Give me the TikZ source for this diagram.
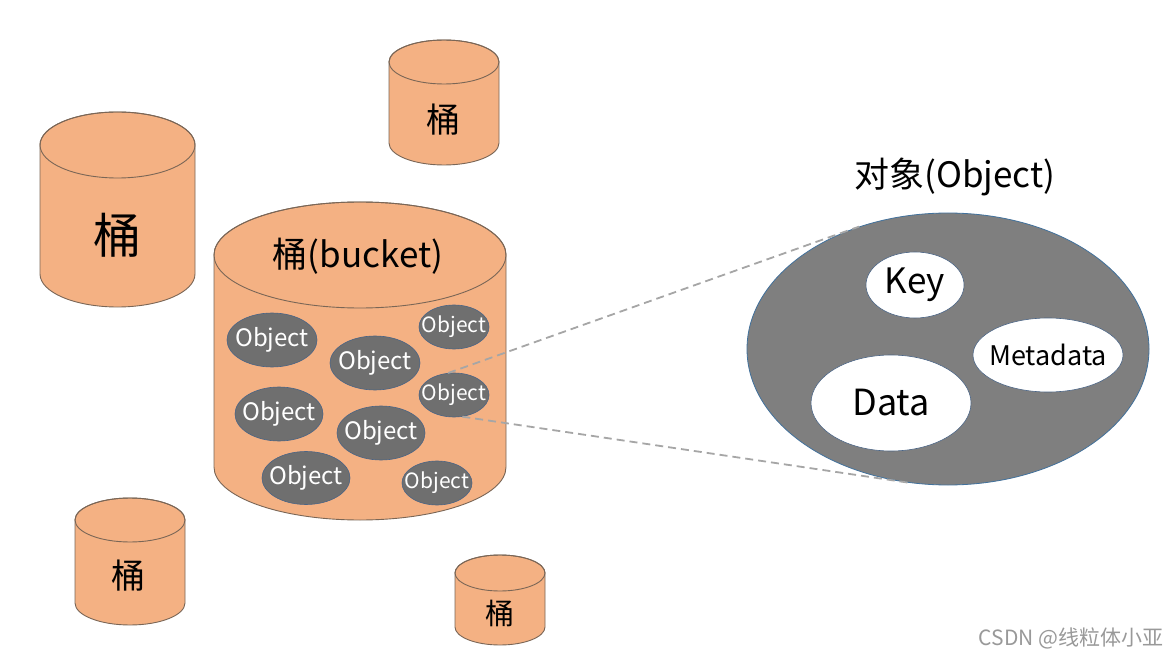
\documentclass[tikz,border=0pt]{standalone}
\usepackage{fontspec}
\setmainfont{Noto Sans CJK SC}
\usetikzlibrary{shapes.geometric}
\definecolor{orng}{HTML}{F4B183}
\definecolor{cylline}{HTML}{7A6656}
\definecolor{objfill}{HTML}{6F6F6F}
\definecolor{objline}{HTML}{4A6485}
\definecolor{bigfill}{HTML}{7F7F7F}
\definecolor{bigline}{HTML}{41719C}
\definecolor{dashc}{HTML}{A6A6A6}
\newcommand\drawcyl[5]{%
  \filldraw[cylbody] ({#1-#2},#3) -- ({#1-#2},#4)
    arc[start angle=180,end angle=0,x radius=#2,y radius=#5] -- ({#1+#2},#3)
    arc[start angle=0,end angle=-180,x radius=#2,y radius=#5] -- cycle;
  \draw[cylbody,fill=none] (#1,#3) ellipse[x radius=#2,y radius=#5];}
\tikzset{
  cylbody/.style={fill=orng,draw=cylline,line width=0.9pt},
  obj/.style={ellipse,fill=objfill,draw=objline,line width=0.6pt,inner sep=0pt,
    label={[text=white,font=\fontsize{24}{24}\selectfont]center:Object}},
  sobj/.style={ellipse,fill=objfill,draw=objline,line width=0.6pt,inner sep=0pt,
    label={[text=white,font=\fontsize{21}{21}\selectfont]center:Object}},
  part/.style={ellipse,fill=white,draw=objline,line width=0.6pt,inner sep=0pt,text=black},
  conn/.style={draw=dashc,dashed,dash pattern=on 8pt off 5pt,line width=1.8pt},
}
\begin{document}
\begin{tikzpicture}[x=1pt,y=-1pt]
\useasboundingbox (0,0) rectangle (1175,660);
\fill[white] (0,0) rectangle (1175,660);
% cylinders
\drawcyl{117.5}{77.5}{145}{274}{33}
\drawcyl{444}{55}{62}{143}{22}
\drawcyl{360}{146}{255}{467}{53}
\drawcyl{130}{55}{520}{603}{22}
\drawcyl{500}{45}{573}{627}{18}
\node (b1) at (117,235) {\fontsize{48}{48}\selectfont 桶};
\node (b2) at (443,120) {\fontsize{34}{34}\selectfont 桶};
\node (bk) at (358,256) {\fontsize{35}{35}\selectfont 桶(bucket)};
\node (b4) at (128,576) {\fontsize{34}{34}\selectfont 桶};
\node (b5) at (500,613) {\fontsize{29}{29}\selectfont 桶};
% objects
\node[obj,minimum width=90pt,minimum height=54pt] (o1) at (272,340) {};
\node[obj,minimum width=90pt,minimum height=54pt] (o2) at (375,363) {};
\node[sobj,minimum width=70pt,minimum height=44pt] (o3) at (454,327) {};
\node[sobj,minimum width=70pt,minimum height=44pt] (o4) at (454,395) {};
\node[obj,minimum width=88pt,minimum height=54pt] (o5) at (279,414) {};
\node[obj,minimum width=88pt,minimum height=54pt] (o6) at (381,433) {};
\node[obj,minimum width=88pt,minimum height=53pt] (o7) at (306,478) {};
\node[sobj,minimum width=70pt,minimum height=44pt] (o8) at (437,483) {};
% big object
\node[ellipse,fill=bigfill,draw=bigline,line width=0.8pt,minimum width=402pt,minimum height=272pt,inner sep=0pt] (big) at (948,349) {};
\node (title) at (955,177) {\fontsize{35}{35}\selectfont 对象(Object)};
\node[part,minimum width=98pt,minimum height=66pt,label={[font=\fontsize{35}{35}\selectfont]center:Key}] (key) at (915,285) {};
\node[part,minimum width=150pt,minimum height=74pt,label={[font=\fontsize{27}{27}\selectfont]center:Metadata}] (meta) at (1048,355) {};
\node[part,minimum width=160pt,minimum height=96pt,label={[font=\fontsize{36}{36}\selectfont]center:Data}] (data) at (891,403) {};
% connectors
\draw[conn] (o4.105) -- (big.126);
\draw[conn] (o4.-69) -- (big.-105.7);
% watermark
\node[text=black!40] (wm) at (1071,638) {\fontsize{21}{21}\selectfont CSDN @线粒体小亚};
\end{tikzpicture}
\end{document}
